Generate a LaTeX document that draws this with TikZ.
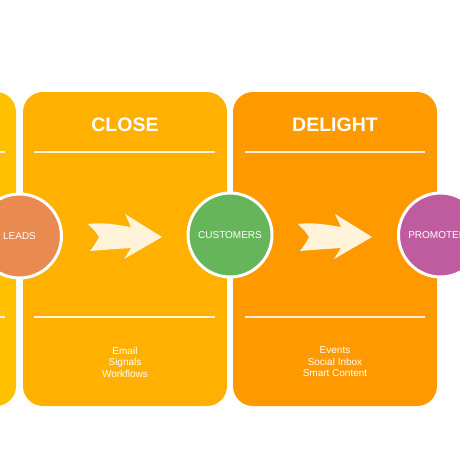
\documentclass[tikz,border=0pt]{standalone}
\usepackage{fontspec}
\setmainfont{Liberation Sans}
\definecolor{panelA}{HTML}{FFC000}
\definecolor{panelB}{HTML}{FFB000}
\definecolor{panelC}{HTML}{FF9900}
\definecolor{leadc}{HTML}{E98A50}
\definecolor{custc}{HTML}{66B55B}
\definecolor{promc}{HTML}{BE5C9F}
\definecolor{cream}{HTML}{FFF3D9}
\begin{document}
\begin{tikzpicture}[x=1pt,y=-1pt,
  panel/.style={rounded corners=20pt},
  rulel/.style={draw=white, line width=1.6pt, opacity=0.85},
  title/.style={text=white, font=\bfseries\fontsize{19.5}{22}\selectfont},
  stage/.style={circle, draw=white, line width=3pt, minimum size=84pt, inner sep=0pt, text=white, font=\fontsize{10}{12}\selectfont},
  tools/.style={text=white, align=center, font=\fontsize{10}{11.5}\selectfont},
  flow/.style={fill=cream}]
\useasboundingbox (0,0) rectangle (460,460);
\clip (0,0) rectangle (460,460);
\fill[white] (0,0) rectangle (460,460);
% panels
\fill[panelA, panel] (-187,92) rectangle (16,406);
\fill[panelB, panel] (23,92) rectangle (227,406);
\fill[panelC, panel] (233,92) rectangle (437,406);
% rules
\draw[rulel] (-176,152) -- (5,152);
\draw[rulel] (-176,317) -- (5,317);
\draw[rulel] (34,152) -- (215,152);
\draw[rulel] (34,317) -- (215,317);
\draw[rulel] (245,152) -- (425,152);
\draw[rulel] (245,317) -- (425,317);
% titles
\node[title] (close) at (125,125) {CLOSE};
\node[title] (delight) at (335,125) {DELIGHT};
% arrows
\foreach \dx in {0,210}{
  \begin{scope}[xshift=\dx]
    \fill[cream] (88,224) .. controls (105,222) and (118,225) .. (131,227)
      -- (125,214) -- (162,237) -- (124,259) -- (131,248)
      .. controls (116,249) and (102,250) .. (90,251)
      .. controls (94,246) and (97,241) .. (99,237)
      .. controls (96,232) and (92,228) .. (88,224) -- cycle;
  \end{scope}
}
% stages
\node[stage, fill=leadc] (leads) at (19.5,236) {LEADS};
\node[stage, fill=custc] (customers) at (230,235) {CUSTOMERS};
\node[stage, fill=promc] (promoters) at (440.5,235) {PROMOTERS};
% tools
\node[tools] (closetools) at (125,362) {Email\\Signals\\Workflows};
\node[tools] (delighttools) at (335,362) {Events\\Social Inbox\\Smart Content};
\end{tikzpicture}
\end{document}
